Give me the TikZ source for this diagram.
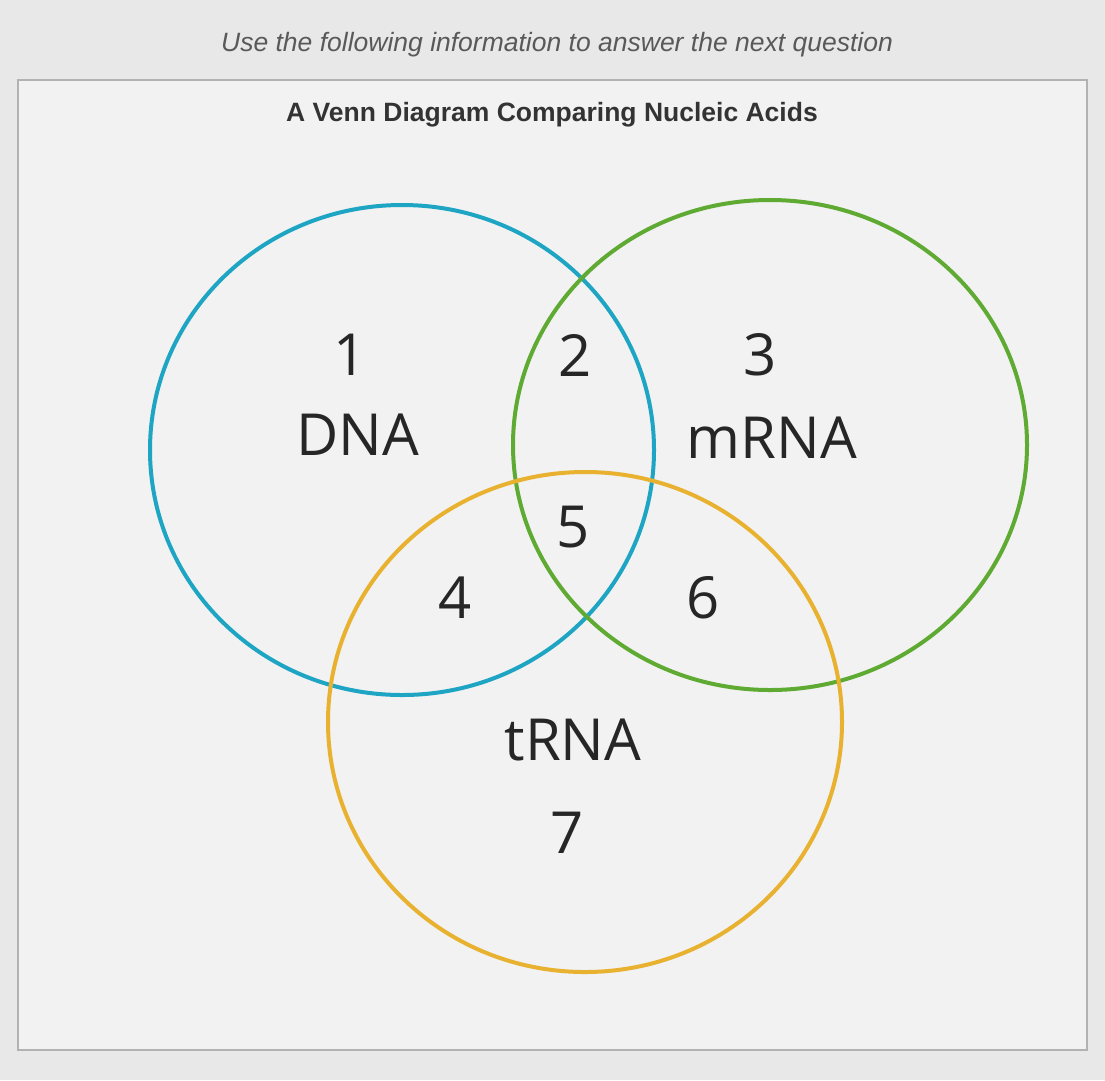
\documentclass[tikz,border=0pt]{standalone}
\usepackage{fontspec}
\setmainfont{Open Sans}
\newfontfamily\arialf{Liberation Sans}
\begin{document}
\begin{tikzpicture}[x=1pt,y=-1pt,
  lab/.style={font=\fontsize{58}{66}\selectfont,text=black!85},
  ring/.style={line width=4pt}]
\fill[gray!18] (0,0) rectangle (1105,1080);
\useasboundingbox (0,0) rectangle (1105,1080);
\fill[gray!10] (18,80) rectangle (1087,1050);
\draw[gray!60,line width=1.2pt] (18,80) rectangle (1087,1050);
\node (top) at (557,45) {\arialf\itshape\fontsize{26.5}{30}\selectfont\color{black!65}Use the following information to answer the next question};
\node (title) at (552,115) {\arialf\bfseries\fontsize{26.5}{30}\selectfont\color{black!80}A Venn Diagram Comparing Nucleic Acids};
\draw[ring,draw={rgb,255:red,30;green,165;blue,195}] (402,450) ellipse [x radius=252,y radius=245];
\draw[ring,draw={rgb,255:red,95;green,170;blue,50}] (770,445) ellipse [x radius=257,y radius=245];
\draw[ring,draw={rgb,255:red,232;green,178;blue,48}] (585,722) ellipse [x radius=257,y radius=250];
\node[lab] (n1) at (350,355) {1};
\node[lab] (dna) at (358,435) {DNA};
\node[lab] (n2) at (575,355) {2};
\node[lab] (n3) at (760,355) {3};
\node[lab] (mrna) at (772,438) {mRNA};
\node[lab] (n5) at (573,527) {5};
\node[lab] (n4) at (455,598) {4};
\node[lab] (n6) at (703,598) {6};
\node[lab] (trna) at (573,740) {tRNA};
\node[lab] (n7) at (567,833) {7};
\end{tikzpicture}
\end{document}
